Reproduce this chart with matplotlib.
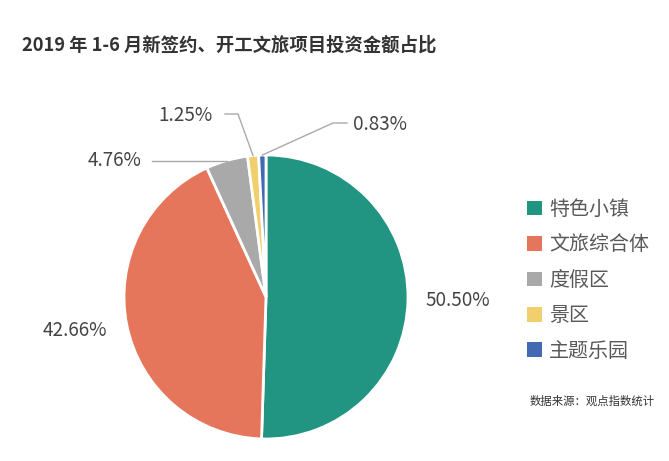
import numpy as np
import matplotlib.pyplot as plt

plt.rcParams['font.family'] = ['Noto Sans CJK SC', 'DejaVu Sans']

categories = ["特色小镇", "文旅综合体", "度假区", "景区", "主题乐园"]
values = [50.50, 42.66, 4.76, 1.25, 0.83]
pct_labels = ["50.50%", "42.66%", "4.76%", "1.25%", "0.83%"]
colors = ["#229482", "#E5765B", "#A9A9A9", "#F0CF6C", "#4369B2"]

W, H = 669, 461
cx, cy, r = 266, 297, 142

fig = plt.figure(figsize=(W / 100, H / 100), dpi=100)
ax = fig.add_axes([(cx - r) / W, (H - cy - r) / H, 2 * r / W, 2 * r / H])

wedges, _ = ax.pie(values, colors=colors, startangle=90, counterclock=False,
                   radius=1, wedgeprops=dict(edgecolor="white", linewidth=2))
ax.set_xlim(-1, 1)
ax.set_ylim(-1, 1)
ax.set_aspect("auto")
ax.axis("off")


def px(x, y):
    # pixel position -> data units of the pie axes
    return (x - cx) / r, (cy - y) / r


def mid_point(w, rr=1.0):
    a = np.deg2rad((w.theta1 + w.theta2) / 2)
    return rr * np.cos(a), rr * np.sin(a)


txt = dict(fontsize=13.6, color="#444444", va="center")
line = dict(color="#AAAAAA", lw=1)

# big slices: plain labels
ax.text(*px(458, 301), pct_labels[0], ha="center", **txt)
ax.text(*px(75, 331), pct_labels[1], ha="center", **txt)

# small slices with leader lines
mx, my = mid_point(wedges[2])
ex, ey = px(152, 0)[0], my
ax.plot([mx, ex], [my, ey], **line, clip_on=False)
ax.text(ex - 11 / r, ey, pct_labels[2], ha="right", **txt)

mx, my = mid_point(wedges[3])
kx, ky = px(238, 114)
ex = px(225, 0)[0]
ax.plot([mx, kx, ex], [my, ky, ky], **line, clip_on=False)
ax.text(ex - 12 / r, ky - 2 / r, pct_labels[3], ha="right", **txt)

mx, my = mid_point(wedges[4])
kx, ky = px(333, 123)
ex = px(347, 0)[0]
ax.plot([mx, kx, ex], [my, ky, ky], **line, clip_on=False)
ax.text(ex + 6 / r, ky - 2 / r, pct_labels[4], ha="left", **txt)

fig.text(22 / W, 1 - 45 / H, "2019 年 1-6 月新签约、开工文旅项目投资金额占比",
         fontsize=13.2, fontweight="bold", color="#333333", va="center")

leg = fig.legend(wedges, categories, loc="upper left",
                 bbox_to_anchor=(517 / W, 1 - 189 / H), frameon=False,
                 fontsize=14.4, handlelength=0.75, handleheight=0.75,
                 handletextpad=0.35, labelspacing=0.72, borderpad=0)
for t in leg.get_texts():
    t.set_color("#595959")
for h in leg.legend_handles:
    h.set_edgecolor("none")

fig.text(530 / W, 1 - 401 / H, "数据来源：观点指数统计", fontsize=8.2,
         color="#333333", va="center")

fig.savefig("out.png", dpi=100)
